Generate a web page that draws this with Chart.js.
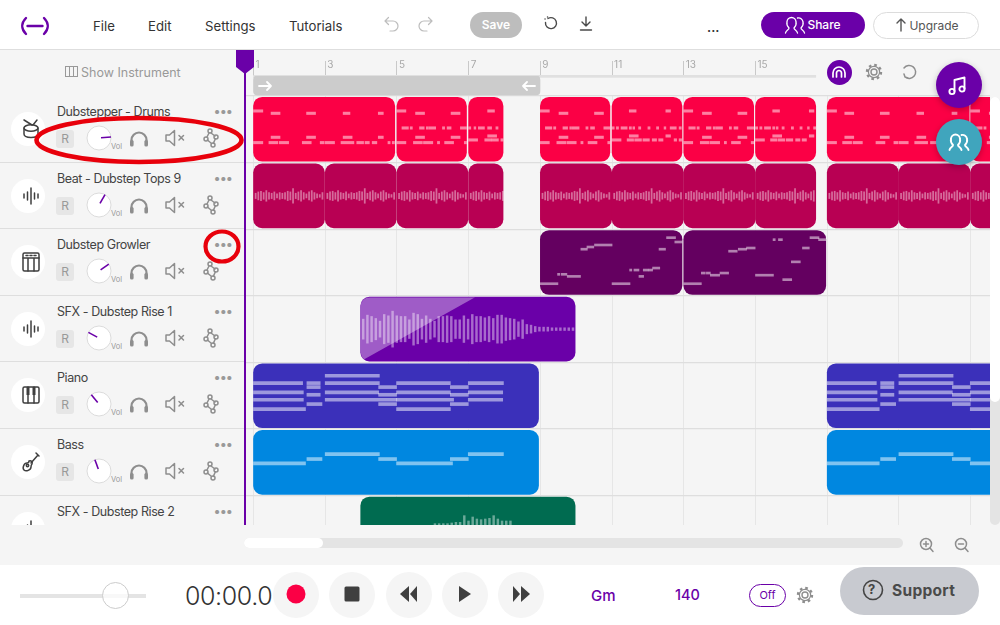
<!DOCTYPE html>
<html>
<head>
<meta charset="utf-8">
<title>Studio</title>
<script src="https://cdn.jsdelivr.net/npm/chart.js@4"></script>
<style>
  html, body { margin: 0; padding: 0; background: #fff; }
  body { width: 1000px; height: 625px; position: relative; overflow: hidden; font-family: Inter, "Open Sans", sans-serif; color: #3a3a3a; }
  .abs { position: absolute; white-space: nowrap; }
  #topbar { left: 0; top: 0; width: 1000px; height: 49px; background: #fff; border-bottom: 1.5px solid #dedede; }
  #panel { left: 0; top: 50px; width: 245px; height: 475px; background: #f5f5f5; overflow: hidden; }
  #ruler { left: 245px; top: 50px; width: 755px; height: 475px; background: #f5f5f5; }
  #lower { left: 0; top: 525px; width: 1000px; height: 40px; background: #f5f5f5; }
  #chart { position: absolute; left: 245px; top: 50px; }
  .pill { border-radius: 14px; text-align: center; font-size: 12px; box-sizing: border-box; }
  .row { position: absolute; left: 0; width: 245px; height: 66.6px; box-sizing: border-box; border-bottom: 1.5px solid #dedede; }
  .name { position: absolute; left: 57px; top: 8px; font-size: 12.5px; letter-spacing: -.42px; color: #444; white-space: nowrap; }
  .circle { position: absolute; left: 11px; top: 16px; width: 34px; height: 34px; border-radius: 50%; background: #fff; }
  .rec { position: absolute; left: 56px; top: 34px; width: 18px; height: 18px; background: #e6e6e6; border-radius: 3px; font-size: 12px; line-height: 18px; text-align: center; color: #999; }
  .vol { position: absolute; left: 111px; top: 46px; font-size: 7.5px; color: #999; }
  .dots { position: absolute; left: 214px; top: 7px; font-size: 13px; font-weight: 700; color: #999; letter-spacing: 0; }
  .tbtn { position: absolute; top: 572px; width: 46px; height: 46px; border-radius: 50%; background: #f5f5f5; }
  svg { position: absolute; overflow: visible; }
</style>
</head>
<body>
<div class="abs" id="topbar"></div>
<div class="abs" id="panel"></div>
<div class="abs" id="ruler"></div>
<div class="abs" id="lower"></div>
<canvas id="chart" width="745" height="475"></canvas>
<div id="chrome"></div>
<script>
// Tracks
const trackNames = ['Dubstepper - Drums', 'Beat - Dubstep Tops 9', 'Dubstep Growler', 'SFX - Dubstep Rise 1', 'Piano', 'Bass', 'SFX - Dubstep Rise 2'];
const trackColors = ['#fb0045', '#b80053', '#640060', '#6a00a8', '#3b30ba', '#0087e0', '#006b50'];
const knobAngles = [5, 60, 35, 152, 130, 110, 120];
const trackIcons = ['drum', 'wave', 'synth', 'wave', 'piano', 'guitar', 'wave'];

// Ruler, in bars
const rulerBars = [1, 3, 5, 7, 9, 11, 13, 15, 17, 19, 21];
const lastRulerLabel = 15;
const rowLines = [0, 1, 2, 3, 4, 5, 6];
const loopRange = [1, 8.99];
const songEnd = 16.68;

// Note patterns: [start, end, lane], start and end in bars from the clip start, lane as part of the row
const drumsA = [[0,.26,.225],[.49,.74,.26],[1.48,1.73,.26],[2.5,2.69,.26],[3.48,3.62,.26],[.49,.74,.62],[1.48,1.73,.62],[2.5,2.75,.62],[3.48,3.62,.62],
  [0,.26,.7],[.43,.68,.7],[.72,.98,.7],[1.36,1.61,.7],[1.86,1.97,.7],[2,2.26,.7],[2.44,2.8,.7],[2.88,3.07,.7],[3.11,3.23,.7],[3.31,3.44,.7],[3.75,3.81,.7],[3.87,3.93,.7]];
const drumsB = [[0,.25,.225],[.52,.77,.26],[1.51,1.76,.26],[.14,.32,.48],[.37,.43,.48],[.63,.76,.48],[.82,.87,.48],[.89,1.08,.48],[1.27,1.33,.48],[1.4,1.51,.48],[1.77,1.95,.48],
  [.52,.77,.62],[1.51,1.76,.62],[0,.25,.7],[.46,.71,.7],[.74,1,.7],[1.13,1.19,.7],[1.33,1.58,.7],[1.88,1.95,.7]];
const drumsC = [[.53,.72,.225],[0,.06,.48],[.15,.2,.48],[.27,.44,.48],[.53,.64,.48],[.76,.82,.48],[.53,.78,.6],[0,.25,.66],[.45,.63,.66],[.64,.83,.66],[.9,.98,.66]];
const drumsE = [[.48,.67,.225],[1.5,1.63,.225],[0,.06,.48],[.12,.18,.48],[.25,.42,.48],[.48,.54,.48],[.58,.63,.48],[.74,.8,.48],[1,1.06,.48],[1.24,1.3,.48],[1.45,1.5,.48],[1.62,1.79,.48],[1.87,1.93,.48],
  [.48,.73,.6],[1.5,1.63,.6],[0,.25,.66],[.42,.6,.66],[.63,.82,.66],[.86,1.04,.66],[1.12,1.24,.66],[1.3,1.42,.66],[1.73,1.8,.66],[1.87,1.94,.66]];
const growlerA = [[3.52,3.77,.127],[3.75,3.96,.192],[1.51,2,.237],[1.3,1.49,.267],[1.13,1.31,.3],[3.31,3.49,.3],[3.13,3.33,.583],[2.49,2.55,.613],[2.61,2.75,.613],[2.87,3,.613],[3.01,3.13,.613],
  [.48,.54,.677],[.58,.74,.677],[.75,1.12,.708],[2.75,2.88,.708],[0,.49,.818],[2,2.5,.818]];
const growlerB = [[3.52,3.77,.127],[3.76,3.96,.157],[2.49,2.55,.157],[2.64,2.75,.157],[1.75,1.99,.282],[3.31,3.5,.282],[1.52,1.75,.3],[1.25,1.49,.33],[3,3.25,.49],
  [.49,.6,.658],[.63,.74,.658],[1.01,1.25,.658],[.74,1,.69],[2,2.5,.69],[2.76,3.01,.757],[0,.49,.818]];
const pianoNotes = [[2,3.51,.199],[0,1.37,.31],[1.49,1.86,.31],[2,3.51,.31],[3.99,5.49,.31],[5.99,6.97,.31],[1.49,1.86,.37],[3.49,3.99,.37],[5.49,5.99,.37],
  [0,1.39,.45],[2,3.49,.45],[3.99,5.49,.45],[5.99,6.95,.45],[1.49,1.86,.485],[3.49,3.99,.485],[5.49,5.99,.485],
  [0,1.39,.56],[2,3.99,.56],[3.99,5.58,.56],[5.99,6.95,.56],[1.49,1.91,.625],[3.49,3.99,.625],[5.49,5.99,.625],[0,1.45,.7],[3.99,5.49,.7]];
const bassNotes = [[0,1.45,.515],[1.49,1.91,.45],[2,3.51,.375],[3.49,3.99,.45],[3.99,5.55,.515],[5.49,5.99,.45],[5.99,6.97,.375]];

// Clips per track: [start bar, end bar]
const drumClips = [[1,4.94],[5,6.94],[7,7.96],[9,10.94],[11,12.95],[13,14.95],[15,16.68],[17,20.96],[21,23]];
const drumPatterns = [drumsA, drumsB, drumsC, drumsB, drumsE, drumsB, drumsE, drumsA, drumsB];
const beatClips = [[1,2.98],[3,4.98],[5,6.98],[7,7.96],[9,10.99],[11,12.99],[13,14.99],[15,16.68],[17,18.99],[19,20.99],[21,23]];
const growlerClips = [[9,12.95],[13,16.96]];
const growlerPatterns = [growlerA, growlerB];
const riseClip1 = [[3.99,9.97]];
const riseClip2 = [[3.99,9.97]];
const pianoClips = [[1,8.95],[17,25]];
const bassClips = [[1,8.95],[17,25]];
const fadeIn = [3.99, 7.18];

// Waveforms: half heights in percent of the row
const beatWave = [4,6,7,5,8,5,4,6,3,5,4,5,7,6,11,4,6,8,5,3,6,8,5,3,2,5,4];
const beatStep = 0.0745;
const rise1Wave = [15,21,19,16,12,22,20,27,20,19,19,14,24,22,15,20,15,12,19,19,20,19,14,14,20,15,22,19,19,17,19,16,21,21,17,16,15,11,14,7,6,4,3,3,3,2,2,2,2,2,2];
const rise1Start = 4.06;
const rise2Wave = [8,8,8,8,9,10,10,20,12,18,15,14,15,16,20,15,12,12,12];
const rise2Start = 6.06;
const riseStep = 0.117;

const noteColor = 'rgba(255,255,255,0.5)';
const waveColor = 'rgba(255,255,255,0.42)';

const clipData = (clips, row) => clips.map(c => ({ x: c, y: row + 0.5 }));

const notesFor = (clips, patterns, row) => clips.flatMap((c, i) => patterns[i]
  .filter(n => c[0] + n[0] < c[1])
  .map(n => ({ x: [c[0] + n[0], Math.min(c[0] + n[1], c[1])], y: row + n[2] })));

const waveBars = (amps, start, step, row, end) => amps
  .map((a, i) => ({ x: start + i * step, y: [row + 0.5 - a / 100, row + 0.5 + a / 100] }))
  .filter(p => p.x < end);

const clipSet = (clips, row) => ({
  type: 'bar', indexAxis: 'y', grouped: false, order: 5,
  data: clipData(clips, row), backgroundColor: trackColors[row],
  barThickness: 64, borderRadius: 9, borderSkipped: false
});
const noteSet = (data, thickness) => ({
  type: 'bar', indexAxis: 'y', grouped: false, order: 2, data,
  backgroundColor: noteColor, barThickness: thickness, borderSkipped: false
});
const waveSet = (data, thickness) => ({
  type: 'bar', indexAxis: 'x', grouped: false, order: 2, data,
  backgroundColor: waveColor, barThickness: thickness, borderSkipped: false
});

const beatBars = beatClips.flatMap(c => waveBars(beatWave, c[0] + 0.06, beatStep, 1, c[1]));

const datasets = [
  noteSet(notesFor(drumClips, drumPatterns, 0), 2.4),
  noteSet(notesFor(growlerClips, growlerPatterns, 2), 2),
  noteSet(notesFor(pianoClips, [pianoNotes, pianoNotes], 4), 3),
  noteSet(notesFor(bassClips, [bassNotes, bassNotes], 5), 3),
  waveSet(beatBars, 1.1),
  waveSet(waveBars(rise1Wave, rise1Start, riseStep, 3, 9.97), 1.8),
  waveSet(waveBars(rise2Wave, rise2Start, riseStep, 6, 9.97), 1.8),
  clipSet(drumClips, 0), clipSet(beatClips, 1), clipSet(growlerClips, 2), clipSet(riseClip1, 3),
  clipSet(pianoClips, 4), clipSet(bassClips, 5), clipSet(riseClip2, 6),
  { type: 'bar', indexAxis: 'y', grouped: false, order: 6, data: [{ x: loopRange, y: -0.158 }],
    backgroundColor: '#cccccc', barThickness: 19, borderRadius: 4, borderSkipped: false },
  { type: 'bar', indexAxis: 'y', grouped: false, order: 7, clip: 2, data: [{ x: [1, songEnd], y: -0.295 }],
    backgroundColor: '#e0e0e0', barThickness: 2 }
];

// Ruler gap above the first row, and the fade-in wedge on the first riser
const trackExtras = {
  id: 'trackExtras',
  beforeDatasetsDraw(chart) {
    const { ctx, chartArea: a, scales: { y } } = chart;
    ctx.save();
    ctx.fillStyle = '#f5f5f5';
    ctx.fillRect(a.left, a.top, a.right - a.left, y.getPixelForValue(0) - a.top - 1);
    ctx.restore();
  },
  afterDatasetsDraw(chart) {
    const { ctx, scales: { x, y } } = chart;
    const left = x.getPixelForValue(riseClip1[0][0]);
    const right = x.getPixelForValue(riseClip1[0][1]);
    const mid = y.getPixelForValue(3.5);
    ctx.save();
    ctx.beginPath();
    ctx.roundRect(left, mid - 32, right - left, 64, 9);
    ctx.clip();
    ctx.beginPath();
    ctx.moveTo(left, mid + 32);
    ctx.lineTo(left, mid - 32);
    ctx.lineTo(x.getPixelForValue(fadeIn[1]), mid - 32);
    ctx.closePath();
    ctx.fillStyle = 'rgba(255,255,255,0.36)';
    ctx.fill();
    ctx.restore();
  }
};

new Chart(document.getElementById('chart'), {
  type: 'bar',
  data: { datasets },
  plugins: [trackExtras],
  options: {
    responsive: false,
    animation: false,
    indexAxis: 'y',
    layout: { autoPadding: false, padding: 0 },
    plugins: { legend: { display: false }, tooltip: { enabled: false } },
    scales: {
      x: {
        type: 'linear', position: 'top', min: 0.763, max: 21.54, offset: false,
        afterBuildTicks: axis => { axis.ticks = rulerBars.map(value => ({ value })); },
        afterFit: axis => { axis.height = 26; axis.paddingLeft = 0; axis.paddingRight = 0; },
        border: { display: false },
        grid: {
          offset: false, color: '#e6e6e6', tickLength: 15,
          tickColor: ctx => (ctx.tick && ctx.tick.value <= lastRulerLabel ? '#c9c9c9' : 'rgba(0,0,0,0)')
        },
        ticks: {
          autoSkip: false, maxRotation: 0, align: 'start', padding: -10, labelOffset: 2,
          color: '#a8a8a8', font: { family: 'Inter', size: 10 },
          callback: v => (v <= lastRulerLabel ? String(v) : '')
        }
      },
      y: {
        type: 'linear', reverse: true, min: -0.3, max: 6.44, offset: false,
        afterBuildTicks: axis => { axis.ticks = rowLines.map(value => ({ value })); },
        afterFit: axis => { axis.width = 0; },
        border: { display: false },
        grid: { offset: false, color: '#dedede', drawTicks: false, lineWidth: 1.2 },
        ticks: { display: false }
      }
    }
  }
});

// Page chrome around the chart
const stroke = (w, c) => `fill="none" stroke="${c}" stroke-width="${w}" stroke-linecap="round" stroke-linejoin="round"`;
const GR = stroke(1.5, '#8e8e8e');
const DK = stroke(1.5, '#3f3f3f');
const WH = stroke(1.8, '#ffffff');

const icons = {
  drum: `<ellipse cx="0" cy="-1" rx="7" ry="3.2" ${DK}/><path d="M-7 -1v6c0 2 3 3.4 7 3.4s7-1.4 7-3.4v-6M-7 -9l8 5M6 -9l-4 5" ${DK}/>`,
  wave: `<path d="M-7 -2v4M-3.5 -4v8M0 -8v16M3.5 -3v6M7 -2v4" ${DK}/>`,
  synth: `<rect x="-8" y="-9" width="16" height="18" rx="1.5" ${DK}/><path d="M-8 -4h16M-3 -4v13M3 -4v13" ${DK}/><path d="M-5 -6.5h2M-1 -6.5h2M3 -6.5h2" ${DK}/>`,
  piano: `<rect x="-8" y="-8" width="16" height="16" rx="1.5" ${DK}/><path d="M-3 -8v16M3 -8v16" ${DK}/><path d="M-4.5 -8h3v8h-3zM1.5 -8h3v8h-3z" fill="#3f3f3f"/>`,
  guitar: `<path d="M-2 -1c2-1 4 1 3 3c-1 1-1 2-1 3c0 3-5 5-7 3c-2-2 0-7 3-7c1 0 2 -1 2 -2z" ${DK}/><circle cx="-3.5" cy="3.5" r="1.2" ${DK}/><path d="M0 1l7-8M5 -9l3 3" ${DK}/>`
};

const headphones = `<path d="M-7.5 5v-3a7.5 7.5 0 0 1 15 0v3" ${stroke(2.2, '#8e8e8e')}/><rect x="-9" y="2" width="3.6" height="6.5" rx="1.6" fill="#8e8e8e"/><rect x="5.4" y="2" width="3.6" height="6.5" rx="1.6" fill="#8e8e8e"/>`;
const speaker = `<path d="M-9 -3h3.5l5-4.5v15l-5-4.5h-3.5z" ${GR}/><path d="M4 -2.5l4.5 4.5M8.5 -2.5l-4.5 4.5" ${GR}/>`;
const automation = `<circle cx="-5" cy="1" r="2" ${GR}/><circle cx="-1" cy="-7" r="2" ${GR}/><circle cx="5" cy="-1" r="2" ${GR}/><circle cx="2" cy="7" r="2" ${GR}/><path d="M-4 -1l2 -4M0 -5l4 3M4.3 1l-2 4.4M0 5l-3.6-3" ${GR}/>`;

const panel = document.getElementById('panel');
panel.innerHTML = `<svg style="left:65px;top:16px" width="14" height="12"><rect x=".5" y=".5" width="12" height="10" fill="none" stroke="#999"/><path d="M4.5 .5v10M8.5 .5v10" stroke="#999"/></svg>
  <div class="abs" style="left:81px;top:15px;font-size:12.5px;color:#999">Show Instrument</div>`;
trackNames.forEach((name, i) => {
  const top = 46 + i * 66.6;
  const a = knobAngles[i] * Math.PI / 180;
  const ix = (12 * Math.cos(a)).toFixed(1), iy = (-12 * Math.sin(a)).toFixed(1);
  const jx = (2 * Math.cos(a)).toFixed(1), jy = (-2 * Math.sin(a)).toFixed(1);
  panel.insertAdjacentHTML('beforeend', `<div class="row" style="top:${top}px">
    <div class="circle"></div>
    <div class="name">${name}</div>
    <div class="dots">•••</div>
    <div class="rec">R</div>
    <svg style="left:99px;top:42px" width="1" height="1"><circle r="12" fill="#fff" stroke="#dcdcdc"/><line x1="${jx}" y1="${jy}" x2="${ix}" y2="${iy}" stroke="#6a00a8" stroke-width="1.6"/></svg>
    <div class="vol">Vol</div>
    <svg style="left:31px;top:33px" width="1" height="1">${icons[trackIcons[i]]}</svg>
    <svg style="left:139px;top:42px" width="1" height="1">${headphones}</svg>
    <svg style="left:175px;top:42px" width="1" height="1">${speaker}</svg>
    <svg style="left:211px;top:42px" width="1" height="1">${automation}</svg>
  </div>`);
});

const magnet = `<path d="M-6 5v-4a6 6 0 0 1 12 0v4M-2.5 5v-4a2.5 2.5 0 0 1 5 0v4" ${stroke(1.7, '#fff')}/>`;
const gear = c => `<circle r="3" ${stroke(1.4, c)}/><circle r="7" fill="none" stroke="${c}" stroke-width="2.4" stroke-dasharray="2.6 2.9"/><circle r="5.6" ${stroke(1.2, c)}/>`;
const people = (c, w) => `<path d="M-8.5 8C-8 5 -5 5 -5 3C-7 1 -7.5 -1 -7 -3A4.5 4.5 0 0 1 2 -3C2.5 -1 2 1 0 3C0 5 3 5 3.5 8M3.5 -7A4.5 4.5 0 0 1 9 -3C9.5 -1 9 1 7 3C7 5 10 5 10.5 8" ${stroke(w, c)}/>`;
const place = (x, y, body) => `<svg style="left:${x}px;top:${y}px" width="1" height="1">${body}</svg>`;
const label = (x, y, text, css) => `<div class="abs" style="left:${x}px;top:${y}px;${css}">${text}</div>`;

document.getElementById('chrome').innerHTML = `
  ${place(35, 26, `<path d="M-9 -8c-5 5-5 11 0 16M9 -8c5 5 5 11 0 16" ${stroke(2.4, '#6a00a8')}/><path d="M-7.5 0h15" ${stroke(2.4, '#6a00a8')}/>`)}
  ${label(93, 18, 'File', 'font-size:13.2px;color:#333')}
  ${label(148, 18, 'Edit', 'font-size:13.2px;color:#333')}
  ${label(205, 18, 'Settings', 'font-size:13.2px;color:#333')}
  ${label(289, 18, 'Tutorials', 'font-size:13.2px;color:#333')}
  ${place(391, 25, `<path d="M-6 -4h8a5 5 0 0 1 0 10h-3M-6 -4l3.5-3.5M-6 -4l3.5 3.5" ${stroke(1.2, '#bdbdbd')}/>`)}
  ${place(426, 25, `<path d="M6 -4h-8a5 5 0 0 0 0 10h3M6 -4l-3.5-3.5M6 -4l-3.5 3.5" ${stroke(1.2, '#bdbdbd')}/>`)}
  <div class="abs pill" style="left:470px;top:12px;width:52px;height:26px;line-height:26px;background:#bdbdbd;color:#fff;font-weight:600">Save</div>
  ${place(551, 24, `<path d="M-3 -5.5a5.5 5.5 0 1 1-2.5 4" ${stroke(1.4, '#4a4a4a')}/><path d="M-6 -5h.1M-3.5 -7h.1" ${stroke(1.4, '#4a4a4a')}/>`)}
  ${place(586, 24, `<path d="M0 -7v9M-4 -2l4 4 4-4M-5.5 6h11" ${stroke(1.4, '#4a4a4a')}/>`)}
  ${label(707, 19, '...', 'font-size:13px;color:#333;font-weight:600')}
  <div class="abs pill" style="left:761px;top:12px;width:104px;height:26px;line-height:26px;background:#6a00a8;color:#fff;font-weight:500;padding-left:22px">Share</div>
  ${place(794, 25, people('#fff', 1.3))}
  <div class="abs pill" style="left:873px;top:12px;width:106px;height:27px;line-height:26px;background:#fff;border:1px solid #dcdcdc;color:#555;padding-left:16px">Upgrade</div>
  ${place(901, 25, `<path d="M0 6v-12M-4 -2l4-4 4 4" ${stroke(1.4, '#555')}/>`)}

  <div class="abs" style="left:244px;top:50px;width:1.5px;height:475px;background:#6a00a8"></div>
  ${place(235.5, 50, `<path d="M0 0h18v17l-9 7-9-7z" fill="#6a00a8"/>`)}
  ${place(265, 85.5, `<path d="M-6 0h12M2 -4l4 4-4 4" ${WH}/>`)}
  ${place(529, 85.5, `<path d="M6 0h-12M-2 -4l-4 4 4 4" ${WH}/>`)}

  <div class="abs" style="left:826.5px;top:59.5px;width:25px;height:25px;border-radius:50%;background:#6a00a8"></div>
  ${place(839, 72, magnet)}
  ${place(874, 72, gear('#8e8e8e'))}
  ${place(909, 72, `<path d="M-5 -4a6.5 6.5 0 1 1 1 9M-4 5l-1 -3M-4 5l3 1" ${GR}/>`)}

  <div class="abs" style="left:990px;top:97px;width:10px;height:428px;background:#e4e4e4;border-radius:5px"></div>
  <div class="abs" style="left:990px;top:97px;width:10px;height:305px;background:#fff;border-radius:5px"></div>
  <div class="abs" style="left:936px;top:62px;width:46px;height:46px;border-radius:50%;background:#6a00a8;box-shadow:0 2px 6px rgba(0,0,0,.25)"></div>
  ${place(959, 85, `<path d="M-4.5 6v-11l10-2.5v11" ${stroke(1.9, '#fff')}/><circle cx="-7" cy="6.5" r="2.6" ${stroke(1.9, '#fff')}/><circle cx="3" cy="4" r="2.6" ${stroke(1.9, '#fff')}/>`)}
  <div class="abs" style="left:936px;top:119px;width:46px;height:46px;border-radius:50%;background:#40a5bd;box-shadow:0 2px 6px rgba(0,0,0,.25)"></div>
  ${place(958, 142, people('#fff', 1.9))}

  <div class="abs" style="left:244px;top:538px;width:659px;height:10px;background:#e4e4e4;border-radius:5px"></div>
  <div class="abs" style="left:244px;top:538px;width:79px;height:10px;background:#fff;border-radius:5px"></div>
  ${place(926, 544, `<circle r="5.5" ${GR}/><path d="M-2.5 0h5M0 -2.5v5M4 4l3 3.5" ${GR}/>`)}
  ${place(961, 544, `<circle r="5.5" ${GR}/><path d="M-2.5 0h5M4 4l3 3.5" ${GR}/>`)}

  <div class="abs" style="left:20px;top:594px;width:126px;height:4px;background:#e4e4e4"></div>
  <div class="abs" style="left:102px;top:582px;width:27px;height:27px;border-radius:50%;background:rgba(255,255,255,.75);border:1px solid #ccc;box-sizing:border-box"></div>
  ${label(185, 581, '00:00.0', 'font-size:25px;color:#333;font-weight:300;letter-spacing:-.4px')}
  <div class="tbtn" style="left:273px"></div><div class="tbtn" style="left:329px"></div><div class="tbtn" style="left:386px"></div><div class="tbtn" style="left:442px"></div><div class="tbtn" style="left:498px"></div>
  ${place(296, 594, `<circle r="9.5" fill="#fb0045"/>`)}
  ${place(352, 594, `<rect x="-7.5" y="-7.5" width="15" height="15" rx="1.5" fill="#3f3f3f"/>`)}
  ${place(409, 594, `<path d="M0 -8v16l-9-8zM8 -8v16l-7-8z" fill="#3f3f3f"/>`)}
  ${place(465, 594, `<path d="M-6 -8v16l12-8z" fill="#3f3f3f"/>`)}
  ${place(521, 594, `<path d="M0 -8v16l9-8zM-8 -8v16l7-8z" fill="#3f3f3f"/>`)}
  ${label(591, 586, 'Gm', 'font-size:15px;color:#6a00a8;font-weight:500')}
  ${label(675, 586, '140', 'font-size:14.5px;color:#6a00a8;font-weight:500')}
  <div class="abs" style="left:749px;top:584px;width:37px;height:23px;border:1px solid #6a00a8;border-radius:12px;box-sizing:border-box;text-align:center;font-size:11px;line-height:21px;color:#6a00a8">Off</div>
  ${place(805, 595, gear('#8e8e8e'))}
  <div class="abs" style="left:840px;top:567px;width:139px;height:48px;border-radius:24px;background:#c8cad0"></div>
  ${place(873, 590, `<circle r="9.5" ${stroke(1.6, '#444')}/>`)}
  ${label(868, 581, '?', 'font-size:13px;font-weight:700;color:#444')}
  ${label(892, 581, 'Support', 'font-size:15.5px;font-weight:700;color:#4a4a4a;letter-spacing:.3px')}

  <svg style="left:0;top:0" width="1000" height="625">
    <ellipse cx="139" cy="140" rx="102.5" ry="22" fill="none" stroke="#e8000b" stroke-width="4.6"/>
    <ellipse cx="222" cy="246.5" rx="16.5" ry="15" fill="none" stroke="#e8000b" stroke-width="4.2"/>
  </svg>`;
</script>
</body>
</html>
